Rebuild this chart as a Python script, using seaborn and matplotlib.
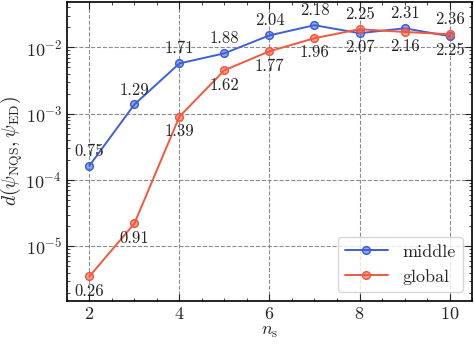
import numpy as np
import pandas as pd
import matplotlib
matplotlib.use("Agg")
import matplotlib.pyplot as plt
import seaborn as sns
from matplotlib.ticker import MultipleLocator

n_s = [2, 3, 4, 5, 6, 7, 8, 9, 10]
middle = [1.63e-4, 1.37e-3, 5.7e-3, 8.1e-3, 1.51e-2, 2.15e-2, 1.63e-2, 1.93e-2, 1.47e-2]
global_ = [3.5e-6, 2.2e-5, 9.0e-4, 4.5e-3, 8.7e-3, 1.37e-2, 1.87e-2, 1.70e-2, 1.57e-2]
middle_labels = ["0.75", "1.29", "1.71", "1.88", "2.04", "2.18", "2.07", "2.31", "2.25"]
global_labels = ["0.26", "0.91", "1.39", "1.62", "1.77", "1.96", "2.25", "2.16", "2.36"]
# +1 above the point, -1 below
middle_side = [1, 1, 1, 1, 1, 1, -1, 1, -1]
global_side = [-1, -1, -1, -1, -1, -1, 1, -1, 1]

sns.set_style("ticks")
plt.rcParams["font.family"] = ["cmr10", "DejaVu Serif"]
plt.rcParams["mathtext.fontset"] = "cm"
plt.rcParams["axes.unicode_minus"] = False
plt.rcParams["axes.formatter.use_mathtext"] = True

blue = "#3f5fd8"
red = "#f2573f"

df = pd.DataFrame({
    "n_s": n_s * 2,
    "d": middle + global_,
    "series": ["middle"] * len(n_s) + ["global"] * len(n_s),
})

fig = plt.figure(figsize=(4.74, 3.45), dpi=100)
ax = fig.add_axes([0.141, 0.128, 0.855, 0.866])
sns.lineplot(data=df, x="n_s", y="d", hue="series", palette={"middle": blue, "global": red},
             marker="o", markersize=5.5, markeredgewidth=1.1, linewidth=1.4, ax=ax)
for line in ax.lines:
    c = line.get_color()
    line.set_markerfacecolor(matplotlib.colors.to_rgba(c, 0.55))
    line.set_markeredgecolor(c)

ax.set_yscale("log")
ax.set_xlim(1.5, 10.5)
ax.set_ylim(1.5e-6, 4.8e-2)
ax.set_xticks([2, 4, 6, 8, 10])
ax.set_xlabel(r"$n_{\rm s}$", fontsize=13, labelpad=2)
ax.set_ylabel(r"$d(\psi_{\rm NQS},\psi_{\rm ED})$", fontsize=14, labelpad=0)
ax.grid(True, which="major", linestyle="--", color="gray", linewidth=0.8, alpha=0.9)
ax.minorticks_on()
ax.tick_params(which="both", direction="in", top=True, right=True, labelsize=13)
ax.tick_params(which="major", length=5)
ax.tick_params(which="minor", length=2.5)
ax.xaxis.set_minor_locator(MultipleLocator(0.5))
for s in ax.spines.values():
    s.set_linewidth(1.2)
    s.set_color("black")

for x, y, lab, side in zip(n_s, middle, middle_labels, middle_side):
    ax.annotate(lab, (x, y), xytext=(0, 5 * side), textcoords="offset points",
                ha="center", va="bottom" if side > 0 else "top", fontsize=12)
for x, y, lab, side in zip(n_s, global_, global_labels, global_side):
    ax.annotate(lab, (x, y), xytext=(0, 5 * side), textcoords="offset points",
                ha="center", va="bottom" if side > 0 else "top", fontsize=12)

handles, labels = ax.get_legend_handles_labels()
ax.legend(handles, labels, loc="lower right", fontsize=13, frameon=True,
          fancybox=True, framealpha=0.8, edgecolor="#cccccc", handlelength=2.4)

fig.savefig("out.png", dpi=100)
